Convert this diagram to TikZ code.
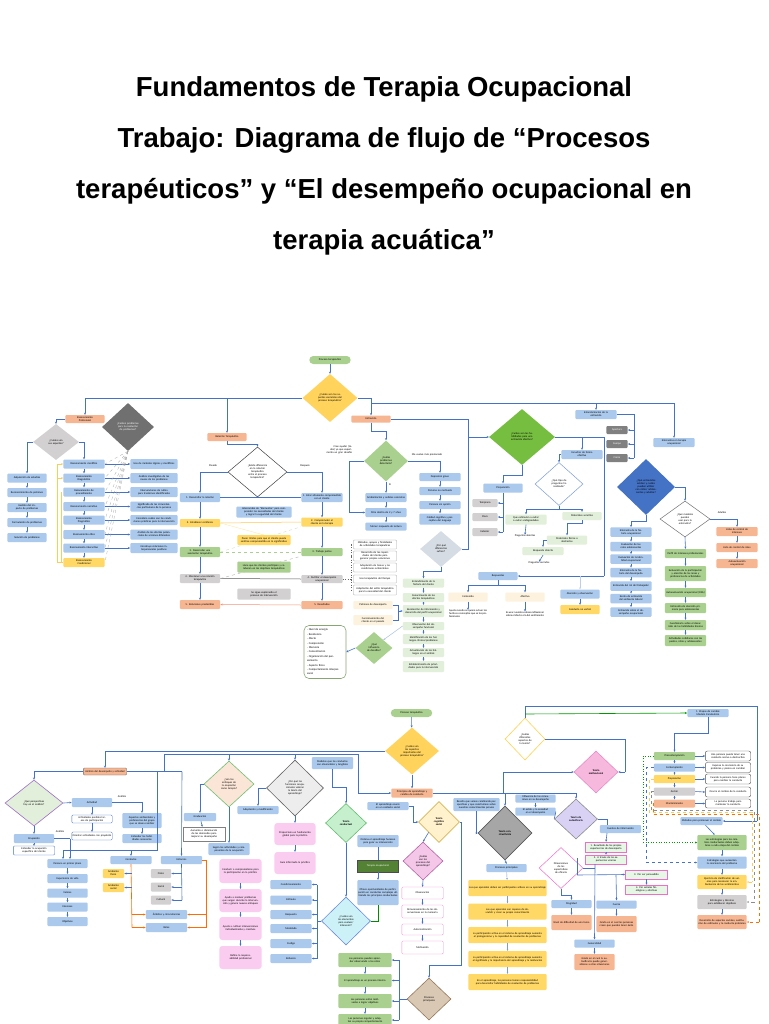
\documentclass[tikz,border=0pt]{standalone}
\usepackage{fontspec}
\setmainfont{Liberation Sans}
\newfontfamily\dg{Carlito}
\usetikzlibrary{shapes.geometric,arrows.meta}
\newcommand\dgf{\dg\fontsize{2.7}{3.05}\selectfont}
\newcommand\ttlf{\bfseries\fontsize{27.5}{30}\selectfont}
\definecolor{cB}{RGB}{170,201,236}
\definecolor{cO}{RGB}{246,182,146}
\definecolor{cY}{RGB}{255,216,102}
\definecolor{cG}{RGB}{169,208,142}
\definecolor{cGr}{RGB}{210,208,208}
\definecolor{cLG}{RGB}{226,239,218}
\definecolor{cCr}{RGB}{253,242,222}
\definecolor{cLn}{RGB}{68,114,196}
\definecolor{cDG}{RGB}{112,112,112}
\definecolor{cPk}{RGB}{250,205,240}
\definecolor{cYd}{RGB}{255,211,92}
\tikzset{
  bx/.style={rectangle, rounded corners=1pt, inner sep=0.7pt, align=center, font=\dgf},
  tw/.style={text width=#1pt},
  mh/.style={minimum height=#1pt},
  bB/.style={bx, fill=cB},
  bO/.style={bx, fill=cO},
  bY/.style={bx, fill=cY},
  bG/.style={bx, fill=cG},
  bGr/.style={bx, fill=cGr},
  bLG/.style={bx, fill=cLG},
  bCr/.style={bx, fill=cCr},
  bPk/.style={bx, fill=cPk, rounded corners=3pt},
  bWb/.style={bx, fill=white, draw=cLn, line width=0.4pt},
  dm/.style={diamond, inner sep=0pt, align=center, font=\dgf},
  ln/.style={draw=cLn, line width=0.6pt},
  ar/.style={ln, -{Stealth[length=2.2pt,width=2pt]}},
  lbl/.style={font=\dgf, inner sep=0pt, align=center},
  fan/.style={draw=black!35, dashed, line width=0.3pt},
  yl/.style={draw=cY!85!orange, line width=0.7pt},
}
\begin{document}
\begin{tikzpicture}[x=1pt,y=-1pt]
\useasboundingbox (0,0) rectangle (768,1024);
\fill[white] (0,0) rectangle (768,1024);
% ---------- title ----------
\node[anchor=base, font=\ttlf, inner sep=0] at (384,97) {Fundamentos de Terapia Ocupacional};
\node[anchor=base, font=\ttlf, inner sep=0] at (384,148) {Trabajo: Diagrama de flujo de “Procesos};
\node[anchor=base, font=\ttlf, inner sep=0] at (384,199) {terapéuticos” y “El desempeño ocupacional en};
\node[anchor=base, font=\ttlf, inner sep=0] at (384,249) {terapia acuática”};

% ================= DIAGRAM 1 =================
\node[bG, rounded corners=4pt, tw=40, mh=8] (p1) at (330,360) {Proceso terapéutico};
\node[dm, fill=cYd, minimum width=55pt, minimum height=48pt, text width=25pt] (d1) at (330,398) {¿Cuáles son los aspectos esenciales del proceso terapéutico?};
\node[bO, tw=38, mh=8] (rp) at (85,419) {Razonamiento\\Profesional};
\node[dm, fill=cDG, text=white, minimum width=52pt, minimum height=48pt, text width=22pt] (dg) at (128,427) {¿Existen problemas para la resolución de problemas?};
\node[dm, fill=cGr, minimum width=46pt, minimum height=36pt, text width=16pt] (lg) at (56,442) {¿Cuáles son sus aspectos?};
\foreach \nm/\y/\tx in {a1/478/{Adquisición de estudios}, a2/492.5/{Reconocimiento de patrones}, a3/507.5/{Gestión del impacto de problemas}, a4/522.5/{Formulación de problemas}, a5/537.5/{Solución de problemas}}
  \node[bB, tw=38, mh=9] (\nm) at (27,\y) {\tx};
\foreach \nm/\y/\tx in {m1/464/{Razonamiento científico}, m2/478/{Razonamiento\\Diagnóstico}, m3/492/{Razonamiento de\\procedimiento}, m4/506.5/{Razonamiento narrativo}, m5/520/{Razonamiento\\Pragmático}, m6/534.5/{Razonamiento ético}, m7/548/{Razonamiento interactivo}}
  \node[bB, tw=40, mh=9] (\nm) at (84,\y) {\tx};
\node[bY, tw=40, mh=9] (m8) at (84,562.5) {Razonamiento\\Condicional};
\foreach \nm/\y/\tx in {r1/464/{Uso de métodos lógicos y científicos}, r2/478/{Análisis investigativo de las causas de los problemas}, r3/492/{Intervenciones de rutina para trastornos identificados}, r4/506.5/{Significado de las circunstancias particulares de la persona}, r5/520/{Considera cuáles son las condiciones prácticas para la intervención}, r6/534.5/{Análisis de los efectos potenciales de acciones diferentes}, r7/548/{Construye relaciones interpersonales positivas}}
  \node[bB, tw=46, mh=10] (\nm) at (154,\y) {\tx};
\draw[ar] (p1) -- (d1);
\draw[ar] (d1.west) -| (rp.north);
\draw[ar] (rp.west) -| (lg.north);
\draw[ar] (lg.west) -| (a1.north);
\draw[ar] (lg.east) -| (m1.north);
\foreach \p/\q in {a1/a2,a2/a3,a3/a4,a4/a5,m1/m2,m2/m3,m3/m4,m4/m5,m5/m6,m6/m7,m7/m8} \draw[ar] (\p) -- (\q);
\foreach \i in {1,...,7} \draw[ar] (m\i.east) -- (r\i.west);
\foreach \i in {1,...,8} \draw[fan] (dg.south) -- (m\i.east);
\draw[yl] (m8.west) -- (57,562.5) -- (57,464);
\draw[yl,-{Stealth[length=2pt,width=1.8pt]}] (57,464) -- (m1.west);
\draw[yl,-{Stealth[length=2pt,width=1.8pt]}] (57,478) -- (m2.west);
\draw[yl] (61,492) -- (61,562.5);

% Relacion terapeutica
\node[bO, tw=38, mh=8] (rt) at (227,437) {Relación Terapéutica};
\node[dm, fill=white, draw=black!75, line width=0.5pt, minimum width=59pt, minimum height=50pt, text width=22pt] (d2) at (257.5,472) {¿Existe diferencia en la relación terapéutica entre el proceso terapéutico?};
\node[lbl] at (213,466) {Pasado};
\node[lbl] at (305,466) {Después};
\node[bB, tw=39, mh=9] (L1) at (200,497.5) {1. Desarrollar la relación};
\node[bY, tw=39, mh=8] (L2) at (200,523) {2. Establecer confianza};
\node[bG, tw=39, mh=10] (L3) at (200,552) {3. Desarrollar una\\asociación terapéutica};
\node[bGr, tw=39, mh=9] (L4) at (200,578.5) {4. Mantener una relación\\terapéutica};
\node[bO, tw=39, mh=9] (L5) at (200,604.5) {5. Relaciones predecibles};
\node[bB, tw=40, mh=9] (R1) at (322,497.5) {1. Estar altamente comprometido\\con el cliente};
\node[bY, tw=40, mh=9] (R2) at (322,522) {2. Comprometer al\\cliente en la terapia};
\node[bG, tw=40, mh=8] (R3) at (322,552) {3. Trabajo juntos};
\node[bGr, tw=40, mh=8] (R4) at (322,579) {4. Facilitar el desempeño\\ocupacional};
\node[bO, tw=40, mh=8] (R5) at (322,605) {5. Resultados};
\draw[ar] (227,398) -- (rt.north);
\draw[ar] (rt.south) -- (227,444) -| (d2.north);
\draw[ar] (d2.west) -| (L1.north);
\draw[ar] (d2.east) -| (R1.north);
\foreach \p/\q in {L1/L2,L2/L3,L3/L4,L4/L5,R1/R2,R2/R3,R3/R4,R4/R5} \draw[ar] (\p) -- (\q);
\draw[ln] (L1.east) -- (R1.west);
\draw[draw=cY!80!orange, line width=0.5pt] (L2.east) -- (R2.west);
\draw[draw=cY!60, line width=0.4pt] (L2.east) -- (264,535);
\draw[draw=cG, line width=0.4pt, dashed] (L3.east) -- (R3.west);
\draw[draw=cG!60, line width=0.4pt, dashed] (L3.east) -- (R2.south west);
\draw[draw=black!65, line width=0.5pt] (L4.east) -- (R4.west);
\draw[draw=black!30, line width=0.4pt, dashed] (L4.east) -- (R3.south west);
\draw[draw=cO!80!red, line width=0.5pt, -{Stealth[length=2.2pt,width=2pt]}] (R5.west) -- (L5.east);
\node[bB, tw=54, mh=11] (N1) at (264,512) {Intercambio de “Elementos” para comprender las necesidades del cliente y lograr la seguridad del cliente};
\node[bY, tw=52, mh=10] (N2) at (264,540) {Poner límites para que el cliente pueda sentirse comprometido en lo significativo};
\node[bG, tw=52, mh=11] (N3) at (264,567) {Hace que los clientes participen y colaboren en los objetivos terapéuticos};
\node[bGr, tw=52, mh=11] (N4) at (264,594) {Se sigue explorando el proceso de intervención};
\foreach \nm/\y/\h/\tx in {F1/544.5/9/{Métodos, apoyos y finalidades de actividades terapéuticas}, F2/556/10/{Desarrollo de las capacidades del cliente para generar propias soluciones}, F3/567.5/9/{Adaptación de tareas y las condiciones ambientales}, F4/579/8/{Uso terapéutico del tiempo}, F5/590/10/{Adaptación del estilo terapéutico para la necesidad del cliente}}
  \node[bx, fill=white, draw=black!35, line width=0.3pt, tw=42, mh=\h] (\nm) at (375,\y) {\tx};
\draw[dotted, draw=black!60, line width=0.5pt] (R4.east) -- (351,579) (351,544.5) -- (351,590);
\foreach \i in {1,...,5} \draw[dotted, draw=black!60, line width=0.5pt] (351,0 |- F\i.west) -- (F\i.west);

% Entrevista branch
\node[bO, tw=38, mh=7] (E) at (371,419) {Entrevista};
\node[dm, fill=cG, minimum width=44pt, minimum height=41pt, text width=18pt] (dp) at (386,461) {¿Cuáles problemas detectaría?};
\node[lbl, text width=30pt, align=right] at (337,450) {Cree ayudar (todos) ya que experimenta un gran desafío};
\node[lbl, text width=34pt] at (427,455) {Me vuelve más presionado};
\node[lbl] at (390,485) {Sí};
\node[bB, tw=40, mh=9] (AM) at (386,497.5) {Ambientación y señales concretas};
\node[bB, tw=40, mh=9] (MI) at (386,512.5) {Mira dentro de 2 y 7 años};
\node[bB, tw=40, mh=8] (ME) at (386,526.5) {Menor respuesta de lectura};
\node[bB, tw=40, mh=8] (DG1) at (440,477) {Depresión grave};
\node[bB, tw=40, mh=8] (DG2) at (440,491) {Persona no motivada};
\node[bB, tw=40, mh=8] (DG3) at (440,505) {Persona sin opción};
\node[bB, tw=40, mh=11] (DG4) at (440,519) {Calidad cognitiva y perceptiva del lenguaje};
\node[dm, fill={rgb,255:red,214;green,220;blue,228}, minimum width=42pt, minimum height=36pt, text width=16pt] (pq) at (441,549) {¿Por qué diferencias sufren?};
\foreach \nm/\y/\h/\tx in {GL1/583/9/{Entendimiento de la historia del cliente}, GL2/597.5/9/{Conocimiento de los efectos terapéuticos}, GL3/611/12/{Recolección de información y desarrollo del perfil ocupacional}, GL4/626/8/{Observación del desempeño funcional}, GL5/639/10/{Identificación de los hallazgos clínicos/problemas}, GL6/652.5/9/{Actualización de los hallazgos en el análisis}, GL7/666.5/11/{Establecimiento de prioridades para la intervención}}
  \node[bLG, tw=40, mh=\h] (\nm) at (423.5,\y) {\tx};
\node[bCr, tw=38, mh=8] (PD) at (373,605) {Patrones de desempeño};
\node[bCr, tw=38, mh=10] (FC) at (373,620) {Funcionamiento del cliente en el pasado};
\node[dm, fill=cG, minimum width=37pt, minimum height=32pt, text width=14pt] (qi) at (374,648) {¿Qué influencia de desafíos?};
\node[bx, fill=white, draw=cG!80!black, line width=0.6pt, rounded corners=5pt, minimum width=42pt, minimum height=53pt, align=left, text width=36pt, font=\dg\fontsize{2.8}{4.4}\selectfont] (bl) at (325,652) {- Nivel de energía\\- Resistencia\\- Afecto\\- Comprensión\\- Memoria\\- Concentración\\- Organización del pensamiento\\- Aspecto físico\\- Comportamiento interpersonal};
\draw[ar] (d1.east) -- (371,398) -- (E.north);
\draw[ln] (371,403) -- (674,403);
\draw[ln] (E.east) -- (468,419) -- (468,549) -- (pq.east);
\draw[ar] (E.south) -- (371,431) -| (dp.north);
\draw[ln] (dp.west) -- (349,461) -- (349,512.5);
\draw[ar] (349,512.5) -- (MI.west);
\draw[ar] (dp.south) -- (AM.north);
\draw[ar] (AM) -- (MI);
\draw[ar] (MI) -- (ME);
\draw[ar] (dp.east) -| (DG1.north);
\foreach \p/\q in {DG1/DG2,DG2/DG3,DG3/DG4,GL1/GL2,GL2/GL3,GL3/GL4,GL4/GL5,GL5/GL6,GL6/GL7} \draw[ar] (\p) -- (\q);
\draw[ar] (pq.south) -- ++(0,4) -| (GL1.north);
\draw[ln] (PD.east) -- (398,605) -- (398,620) -- (FC.east);
\draw[ar] (398,611) -- (GL3.west);
\draw[draw=cLn!45, line width=0.5pt, -{Stealth[length=2pt,width=1.8pt]}] (GL4.west) -- (qi.north east);
\draw[ar] (qi.west) -- (bl.east);

% Habilidades entrevista
\node[dm, fill={rgb,255:red,118;green,190;blue,64}, minimum width=66pt, minimum height=56pt, text width=28pt] (gd) at (522,437) {¿Cuáles son las habilidades para una entrevista efectiva?};
\node[bB, tw=38, mh=9] (PR) at (503,488) {Preparación};
\node[bGr, tw=24, mh=8] (TE) at (485,503) {Temprano};
\node[bGr, tw=24, mh=8] (CL) at (485,517) {Claro};
\node[bGr, tw=24, mh=8] (EX) at (485,532) {Exterior};
\node[bB, tw=40, mh=9] (ESC) at (582,454.5) {Escuchar de forma\\efectiva};
\node[dm, fill=white, draw=cLn!70, line width=0.5pt, minimum width=48pt, minimum height=43pt, text width=18pt] (qt) at (559,484) {¿Qué tipo de preguntas ha realizado?};
\node[bLG, tw=40, mh=10] (QE) at (526,519.5) {Que estimulan a evitar o evitar ambigüedades};
\node[bLG, tw=38, mh=8] (MS) at (582,516) {Materiales sencillos};
\node[lbl] (PA) at (525,536) {Preguntas abiertas};
\node[bLG, tw=39, mh=9] (MF) at (567,540) {Materiales físicos o\\abstractos};
\node[bLG, tw=40, mh=8] (RA) at (543,551) {Respuesta abierta};
\node[lbl] (PC) at (539,563) {Preguntas cerradas};
\node[bB, tw=38, mh=8] (RS) at (498,576) {Respuestas};
\node[bCr, tw=38, mh=9] (CO) at (468,597) {Contenido};
\node[bCr, tw=38, mh=9] (AF) at (525,597) {Afectivo};
\node[lbl, text width=38pt, align=justify] (COt) at (468,614) {Ayuda cuando se quiere actuar los hechos o conceptos que se los profesionales};
\node[lbl, text width=38pt, align=justify] (AFt) at (525,614) {Es usar cuando se desea reflexionar sobre el afecto o la del sentimiento};
\node[bB, tw=38, mh=9] (AT) at (580,594) {Atención y observación};
\node[bY, tw=38, mh=9] (CN) at (580,609.5) {Conducta no verbal};
\draw[ar] (468,437) -- (gd.west);
\draw[ar] (gd.south) -- (522,475) -| (PR.north);
\draw[ln] (PR.south) -- (503,532);
\foreach \b in {TE,CL,EX} \draw[ar] (503,0 |- \b.east) -- (\b.east);
\draw[ln] (gd.east) -- (604,437) -- (604,576);
\draw[ar] (604,576) -- (RS.east);
\draw[ar] (582,437) -- (ESC.north);
\draw[ar] (ESC.west) -| (qt.north);
\draw[ln] (qt.south) -- (559,509) (526,509) -- (582,509);
\draw[ar] (526,509) -- (QE.north);
\draw[ar] (582,509) -- (MS.north);
\draw[ar] (QE.south) -- (PA.north);
\draw[ar] (MS.south) -- ++(0,3) -| (MF.north);
\draw[ar] (MF.west) -| (RA.north);
\draw[ar] (RA.south) -- (PC.north);
\draw[ln] (RS.south) -- (498,585) (468,585) -- (525,585);
\draw[ar] (468,585) -- (CO.north);
\draw[ar] (525,585) -- (AF.north);
\draw[ar] (CO.south) -- (COt.north);
\draw[ar] (AF.south) -- (AFt.north);
\draw[draw=cLn!35, line width=0.5pt, -{Stealth[length=2pt,width=1.8pt]}] (580,576) -- (AT.north);
\draw[ar] (AT) -- (CN);

% Estandarizacion / entrevistas
\node[bB, tw=40, mh=9] (ES) at (596,414.5) {Estandarización de la\\entrevista};
\node[bx, fill=black!50, text=white, tw=20, mh=8] (AP) at (617,430) {Apertura};
\node[bx, fill=black!50, text=white, tw=20, mh=8] (CU) at (617,444) {Cuerpo};
\node[bx, fill=black!50, text=white, tw=20, mh=8] (CI) at (617,458) {Cierre};
\node[bB, tw=40, mh=9] (EO) at (674,442.5) {Entrevistas en terapia\\ocupacional};
\node[dm, fill=cLn, minimum width=58pt, minimum height=56pt, text width=24pt] (bd) at (646,487) {¿Qué entrevistas existen y cuáles pueden utilizar con niños/ adolescentes y adultos?};
\node[dm, fill=white, draw=black!55, line width=0.5pt, minimum width=50pt, minimum height=36pt, text width=18pt] (wd) at (685,519) {¿Qué modelos pueden usar para la entrevista?};
\node[lbl] at (722,513) {Adultos};
\node[bO, tw=40, mh=9] (OL1) at (737,531.5) {Listas de control de\\intereses};
\node[bO, tw=40, mh=9] (OL2) at (737,547.5) {Lista de control de roles};
\node[bO, tw=40, mh=9] (OL3) at (737,563.5) {Autoevaluación\\ocupacional};
\foreach \nm/\y/\tx in {BL1/532/{Entrevista de la historia ocupacional}, BL2/546.5/{Evaluación de los roles adolescentes}, BL3/559/{Evaluación de la identidad ocupacional}, BL4/572.5/{Entrevista de la historia del desempeño}, BL5/586/{Entrevista del rol del trabajador}, BL6/598.5/{Escala de entrevista del ambiente laboral}, BL7/612/{Entrevista sobre el desempeño ocupacional}}
  \node[bB, tw=40, mh=9.5] (\nm) at (631,\y) {\tx};
\foreach \nm/\y/\h/\tx in {GR1/553.5/9/{Perfil de intereses profesionales}, GR2/573.5/15/{Evaluación de la participación y elección de las áreas y preferencias de actividades}, GR3/592.5/9/{Autoevaluación ocupacional (OSA)}, GR4/608/10/{Entrevista de atención primaria para adolescentes}, GR5/625/10/{Cuestionario sobre el desarrollo de las habilidades básicas}, GR6/640.5/11/{Actividades cotidianas con los padres, niños y adolescentes}}
  \node[bG, tw=40, mh=\h] (\nm) at (685.5,\y) {\tx};
\draw[ar] (596,403) -- (ES.north);
\draw[ar] (674,403) -- (EO.north);
\draw[ln] (ES.east) -- (634,414.5) -- (634,458);
\foreach \b in {AP,CU,CI} \draw[ar] (634,0 |- \b.east) -- (\b.east);
\draw[ar] (bd.east) -| (wd.north);
\draw[ar] (wd.east) -| (OL1.north);
\draw[ar] (OL1) -- (OL2);
\draw[ar] (OL2) -- (OL3);
\draw[ar] (bd.south) -- ++(0,6) -| (BL1.north);
\foreach \p/\q in {BL1/BL2,BL2/BL3,BL3/BL4,BL4/BL5,BL5/BL6,BL6/BL7,GR1/GR2,GR2/GR3,GR3/GR4,GR4/GR5,GR5/GR6} \draw[ar] (\p) -- (\q);
\draw[ar] (wd.south) -- (GR1.north);

% ================= DIAGRAM 2 =================
\node[bG, rounded corners=4pt, tw=40, mh=8] (p2) at (411.5,713) {Proceso terapéutico};
\node[dm, fill=cYd, minimum width=54pt, minimum height=47pt, text width=24pt] (d3) at (412,751) {¿Cuáles son los aspectos importantes del proceso terapéutico?};
\node[bO, tw=40, mh=9] (PA2) at (412,793) {Principios de aprendizaje y\\cambio de conducta};
\node[bO, draw=black!60, line width=0.4pt, tw=42, mh=7] (AN) at (105,771.5) {Análisis del desempeño y actividad};
\node[dm, fill=cLG, draw={rgb,255:red,160;green,110;blue,200}, line width=0.6pt, minimum width=58pt, minimum height=46pt, text width=22pt] (d4) at (34,803) {¿Qué perspectivas hay en el análisis?};
\node[bB, tw=39, mh=9] (AC) at (92,802.5) {Actividad};
\node[lbl] at (122,797) {Análisis};
\node[bB, tw=38, mh=15] (AS) at (142,820.5) {Aspectos ambientales y preferencias del grupo que se desea cambiar};
\node[bB, tw=38, mh=9] (EH) at (142,838.5) {Entender las habilidades necesarias};
\node[bWb, tw=39, mh=8] (AP2) at (92,819) {Actividades posibles tareas de participación};
\node[bWb, tw=39, mh=8] (OA) at (92,836) {Orientar actividades con propósito};
\node[bB, tw=39, mh=9] (OC) at (34,838.5) {Ocupación};
\node[lbl] at (60,832) {Análisis};
\node[bWb, tw=40, mh=9] (EC) at (34,850.5) {Entender la ocupación específica del cliente};
\foreach \nm/\y/\tx in {PE1/863.5/{Persona en primer plano}, PE2/878.5/{Experiencia de vida}, PE3/893/{Valores}, PE4/907/{Intereses}, PE5/921.5/{Objetivos}}
  \node[bB, tw=39, mh=9] (\nm) at (67.5,\y) {\tx};
\node[bB, tw=40, mh=8] (CT) at (131,860) {Contextos};
\node[bB, tw=40, mh=8] (EN) at (181.5,860) {Entornos};
\node[bY, tw=20, mh=9] (AF1) at (113.5,873.5) {Ambiente\\físico};
\node[bY, tw=20, mh=9] (AF2) at (113.5,887.5) {Ambiente\\social};
\node[bGr, tw=19, mh=9] (FI) at (161,873.5) {Físico};
\node[bGr, tw=19, mh=9] (SO) at (161,887) {Social};
\node[bGr, tw=19, mh=9] (CU2) at (161,900) {Cultural};
\node[bB, tw=40, mh=9] (AM2) at (166.5,914.5) {Ámbitos y circunstancias};
\node[bB, tw=40, mh=9] (RO) at (166.5,927.5) {Roles};
\draw[ar] (p2) -- (d3);
\draw[ar] (d3.south) -- (PA2.north);
\draw[ar] (d3.west) -| (AN.north);
\draw[ar] (AN.west) -| (d4.north);
\draw[ar] (d4.east) -- (AC.west);
\draw[ar] (AC.east) -| (AS.north);
\draw[ar] (AS) -- (EH);
\draw[ar] (AC) -- (AP2);
\draw[ar] (AP2) -- (OA);
\draw[ar] (d4.south) -- (OC.north);
\draw[ar] (OC) -- (EC);
\draw[ln] (OC.east) -- (70,838.5);
\draw[ar] (70,838.5) -- (70,859);
\foreach \p/\q in {PE1/PE2,PE2/PE3,PE3/PE4,PE4/PE5} \draw[ar] (\p) -- (\q);
\draw[ln] (AN.east) -- (182,771.5);
\draw[ar] (182,771.5) -- (EN.north);
\draw[ln] (157,771.5) -- (157,850) -- (63,850);
\draw[ar] (63,850) -- (63,859);
\draw[ar] (131,850) -- (CT.north);
\draw[draw=orange!85!red, line width=0.6pt] (CT.south) -- (132,927.5);
\draw[draw=orange!85!red, line width=0.6pt, -{Stealth[length=2.2pt,width=2pt]}] (132,914.5) -- (AM2.west);
\draw[draw=orange!85!red, line width=0.6pt, -{Stealth[length=2.2pt,width=2pt]}] (132,927.5) -- (RO.west);
\draw[ar] (132,873.5) -- (AF1.east);
\draw[ar] (132,887.5) -- (AF2.east);
\draw[ln] (EN.south) -- (182,900);
\foreach \b in {FI,SO,CU2} \draw[ar] (182,0 |- \b.east) -- (\b.east);
\draw[draw=orange!85!red, line width=0.6pt] (EN.east) -- (206,860) -- (206,927.5);
\draw[draw=orange!85!red, line width=0.6pt, -{Stealth[length=2.2pt,width=2pt]}] (206,914.5) -- (AM2.east);
\draw[draw=orange!85!red, line width=0.6pt, -{Stealth[length=2.2pt,width=2pt]}] (206,927.5) -- (RO.east);

% enfoques
\node[dm, fill={rgb,255:red,251;green,229;blue,214}, draw={rgb,255:red,112;green,192;blue,112}, line width=0.6pt, minimum width=50pt, minimum height=46pt, text width=20pt] (d5) at (229,784) {¿Son los enfoques de la ocupación como terapia?};
\node[bB, tw=31, mh=8] (GD) at (200,817) {Graduación};
\node[bx, fill=white, draw=black!50, line width=0.4pt, tw=40, mh=14, rounded corners=0pt] (AU) at (204,834) {Aumento o disminución de las demandas para mejorar su desempeño};
\node[bB, tw=40, mh=12] (SG) at (229,849) {Según las actividades y componentes de la ocupación};
\node[bB, tw=40, mh=8] (AD) at (258,810) {Adaptación y modificación};
\node[bPk, tw=41, mh=24] (PK1) at (240.5,871) {Conducir a comprometerse para la participación en la práctica};
\node[bPk, tw=41, mh=23] (PK2) at (240.5,900.5) {Ayuda a resolver problemas que surgen durante la intervención y genera nuevos enfoques};
\node[bPk, tw=41, mh=23] (PK3) at (240.5,928.5) {Ayuda a cultivar intervenciones individualizadas y creativas};
\node[bPk, tw=41, mh=23] (PK4) at (240.5,957.5) {Define la responsabilidad profesional};
\node[dm, fill=black!7, draw=black!60, line width=0.6pt, minimum width=57pt, minimum height=56pt, text width=22pt] (d6) at (295,788) {¿Por qué las funciones ocupacionales valoran la teoría del aprendizaje?};
\node[bPk, tw=40, mh=22] (PP1) at (295,834) {Proporciona un fundamento global para la práctica};
\node[bPk, tw=40, mh=22] (PP2) at (295,863) {Guía informada la práctica};
\draw[ln] (164,771.5) -- (164,754) -- (358,754) -- (358,793);
\draw[ar] (358,793) -- (PA2.west);
\draw[ar] (229,754) -- (d5.north);
\draw[ar] (295,754) -- (d6.north);
\draw[ar] (d5.west) -| (GD.north);
\draw[ar] (GD) -- (AU);
\draw[ar] (d5.south) -- (SG.north);
\draw[ar] (d6.west) -| (AD.north);
\draw[ar] (PK1) -- (PK2);
\draw[ar] (PK2) -- (PK3);
\draw[ar] (PK3) -- (PK4);
\draw[ar] (d6.south) -- (PP1.north);
\draw[ar] (PP1) -- (PP2);

% conductual
\node[bB, tw=40, mh=12] (MO) at (332.5,763) {Modelos que las conductas son observables y tangibles};
\node[dm, fill={rgb,255:red,198;green,239;blue,206}, draw={rgb,255:red,100;green,190;blue,110}, line width=0.6pt, minimum width=41pt, minimum height=39pt, text width=16pt, font=\dg\bfseries\fontsize{2.7}{3.05}\selectfont] (d7) at (346,823) {Teoría conductual};
\node[bB, tw=40, mh=12] (OR) at (378,841) {Ordena el aprendizaje humano para guiar su intervención};
\node[bx, fill={rgb,255:red,84;green,130;blue,53}, draw=black!70, line width=0.5pt, text=white, tw=40, mh=12, rounded corners=0pt] (TO) at (378,866) {Terapia ocupacional};
\node[bB, tw=40, mh=25] (OF) at (378,892.5) {Ofrece oportunidades de participación en conductas complejas utilizando los principios conductuales};
\node[dm, fill={rgb,255:red,204;green,242;blue,247}, draw={rgb,255:red,110;green,140;blue,220}, line width=0.6pt, minimum width=49pt, minimum height=48pt, text width=18pt] (d8) at (346,921) {¿Cuáles son los elementos para evaluar/ intervenir?};
\foreach \nm/\y/\tx in {K1/884.5/{Condicionamiento}, K2/900/{Estímulo}, K3/914.5/{Respuesta}, K4/928.5/{Modelado}, K5/943.5/{Castigo}, K6/958.5/{Refuerzo}}
  \node[bB, tw=40, mh=9] (\nm) at (291,\y) {\tx};
\draw[ln] (MO.south) -- (332.5,787) -- (346,787);
\draw[ar] (346,787) -- (d7.north);
\draw[draw=cLn, line width=0.4pt] (OR) -- (TO);
\draw[ar] (TO) -- (OF);
\draw[ar] (d7.south) -- (d8.north);
\draw[draw=green!55!black, line width=0.6pt] (OF.south) -- (378,921) -- (d8.east);
\draw[ln] (d8.west) -- (317,921) (317,884.5) -- (317,958.5);
\foreach \i in {1,...,6} \draw[ar] (317,0 |- K\i.east) -- (K\i.east);

% cognitiva social
\node[bB, tw=40, mh=8] (CS) at (388,806) {El aprendizaje ocurre en un contexto social};
\node[dm, fill={rgb,255:red,255;green,242;blue,204}, draw={rgb,255:red,214;green,182;blue,86}, line width=0.6pt, minimum width=41pt, minimum height=41pt, text width=16pt, font=\dg\bfseries\fontsize{2.7}{3.05}\selectfont] (d9) at (439,822) {Teoría cognitiva social};
\node[dm, fill={rgb,255:red,244;green,199;blue,232}, draw={rgb,255:red,181;green,101;blue,167}, line width=0.6pt, minimum width=40pt, minimum height=38pt, text width=15pt] (d10) at (423,861) {¿Cuáles son los procesos del aprendizaje?};
\foreach \nm/\y/\h/\tx in {OB/893/12/{Observación}, ALm/911.5/13/{Almacenamiento de las observaciones en la memoria}, ARz/929.5/11/{Autorrealización}, MTv/947.5/13/{Motivación}}
  \node[bx, fill=white, draw={rgb,255:red,240;green,150;blue,210}, line width=0.4pt, tw=40, mh=\h] (\nm) at (422.5,\y) {\tx};
\node[dm, fill={rgb,255:red,217;green,200;blue,180}, draw={rgb,255:red,150;green,120;blue,90}, line width=0.6pt, minimum width=44pt, minimum height=42pt, text width=18pt] (d11) at (429,999) {Procesos principales};
\foreach \nm/\y/\h/\tx in {GB1/960/14/{Las personas pueden aprender observando a los otros}, GB2/980.5/13/{El aprendizaje es un proceso interno}, GB3/1001/14/{Las personas están motivadas a lograr objetivos}, GB4/1020/12/{Las personas regulan y adaptan su propio comportamiento}}
  \node[bG, tw=52, mh=\h] (\nm) at (365,\y) {\tx};
\draw[ln] (CS.east) -- (413,806);
\draw[ar] (413,806) |- (d9.west);
\draw[ar] (d9.south west) -- (d10.north);
\draw[ar] (d10.south) -- (OB.north);
\foreach \p/\q in {OB/ALm,ALm/ARz,ARz/MTv,GB1/GB2,GB2/GB3,GB3/GB4} \draw[ar] (\p) -- (\q);
\draw[ln] (d9.east) -- (461,822) -- (461,965) -- (429,965);
\draw[ar] (429,965) -- (d11.north);
\draw[ln] (d11.west) -- (399,999) (399,960) -- (399,1020);
\foreach \i in {1,...,4} \draw[ar] (399,0 |- GB\i.east) -- (GB\i.east);

% constructivista
\node[bB, tw=45, mh=13] (RT) at (476.5,804.5) {Resalta que vamos cambiando perspectivas y que construimos sobre nuestros conocimientos previos};
\node[dm, fill=black!35, draw=black!65, line width=0.6pt, minimum width=54pt, minimum height=54pt, text width=20pt, font=\dg\bfseries\fontsize{2.7}{3.05}\selectfont] (d12) at (505,833) {Teoría constructivista};
\node[bB, tw=39, mh=8] (PP3) at (506.5,868) {Procesos principales};
\foreach \nm/\y/\tx in {YL1/888/{Los que aprenden deben ser participantes activos en su aprendizaje}, YL2/911.5/{Los que aprenden son capaces de descubrir y crear su propio conocimiento}, YL3/935/{La participación activa en el sistema de aprendizaje aumenta el protagonismo y la capacidad de resolución de problemas}, YL4/959/{La participación activa en el sistema de aprendizaje aumenta el significado y la importancia del aprendizaje y la motivación}, YL5/982/{En el aprendizaje, las personas toman responsabilidad para desarrollar habilidades de resolución de problemas}}
  \node[bY, tw=77, mh=16] (\nm) at (507.5,\y) {\tx};
\draw[ar] (RT.south) |- (d12.west);
\draw[ar] (d12.south) -- (PP3.north);
\foreach \p/\q in {PP3/YL1,YL1/YL2,YL2/YL3,YL3/YL4,YL4/YL5} \draw[draw=cLn!70, line width=0.4pt, -{Stealth[length=1.8pt,width=1.6pt]}] (\p) -- (\q);

% motivacional / autoeficacia
\node[dm, fill={rgb,255:red,247;green,184;blue,221}, draw={rgb,255:red,230;green,140;blue,200}, line width=0.6pt, minimum width=44pt, minimum height=42pt, text width=16pt, font=\dg\bfseries\fontsize{2.7}{3.05}\selectfont] (d13) at (596,772) {Teoría motivacional};
\node[dm, fill=white, draw={rgb,255:red,255;green,210;blue,80}, line width=0.6pt, minimum width=40pt, minimum height=42pt, text width=15pt] (d14) at (525,739) {¿Cuáles diferentes aspectos de la teoría?};
\node[dm, fill={rgb,255:red,217;green,210;blue,245}, draw=black!45, line width=0.6pt, minimum width=43pt, minimum height=40pt, text width=16pt, font=\dg\bfseries\fontsize{2.7}{3.05}\selectfont] (d15) at (576,819) {Teoría de autoeficacia};
\node[bB, tw=39, mh=8] (IC) at (535.5,798.5) {Influencia de las conexiones en su desempeño};
\node[bB, tw=39, mh=8] (EA) at (535.5,811.5) {El estrés y la ansiedad en el desempeño};
\node[bB, tw=40, mh=8] (FU) at (620.5,829) {Fuentes de información};
\tikzset{sp/.style={bx, fill={rgb,255:red,230;green,247;blue,230}, draw={rgb,255:red,240;green,110;blue,200}, line width=0.5pt, rounded corners=0pt}}
\node[sp, tw=40, mh=10] (S1) at (606,847) {1. Resultado de las propias experiencias de desempeño};
\node[sp, tw=40, mh=9] (S2) at (606,859.5) {2. A través de las experiencias vicarias};
\node[sp, tw=41, mh=9] (S3) at (646.5,874.5) {3. Por ser persuadido};
\node[sp, tw=41, mh=9] (S4) at (646.5,889.5) {4. Por señales fisiológicas y afectivas};
\node[dm, fill=white, draw={rgb,255:red,240;green,110;blue,200}, line width=0.5pt, minimum width=44pt, minimum height=41pt, text width=16pt] (d16) at (561,868) {Dimensiones de las expectativas de eficacia};
\node[bB, tw=39, mh=8] (MG) at (571.5,904) {Magnitud};
\node[bB, tw=39, mh=8] (FZ) at (616.5,904.5) {Fuerza};
\node[bB, tw=39, mh=8] (GE) at (594.5,943.5) {Generalidad};
\node[bO, tw=39, mh=15] (NM) at (571.5,922.5) {Nivel de dificultad de una tarea};
\node[bO, tw=39, mh=16] (GR7) at (616.5,924) {Grado en el cual las personas creen que pueden tener éxito};
\node[bO, tw=39, mh=16] (GG) at (594.5,962) {Grado en el cual la autoeficacia puede generalizarse a otras situaciones};
\draw[ln] (PA2.east) -- (576,793);
\draw[ar] (576,793) -- (d15.north);
\draw[ln] (503,793) -- (503,772);
\draw[ar] (503,772) -- (d13.west);
\draw[ar] (505,793) -- (d12.north);
\draw[ln] (d14.east) -- (625,739) -- (625,772);
\draw[ar] (625,772) -- (d13.east);
\draw[ar] (IC) -- (EA);
\draw[ln] (d15.west) -- (EA.east);
\draw[ln] (d15.east) -- (607,819) -- (607,825);
\draw[ar] (607,833) -- (S1.north);
\draw[ar] (S1) -- (S2);
\draw[ar] (S3) -- (S4);
\draw[ln] (577,858) -- (577,875);
\draw[ar] (577,875) -- (S3.west);
\draw[ln] (d16.east) -- (595,868);
\draw[ar] (595,864) -- (GE.north);
\draw[ar] (616,875) -- (FZ.north);
\draw[ar] (d16.south) -- (561,895) -| (MG.north);
\draw[ar] (MG) -- (NM);
\draw[ar] (FZ) -- (GR7);
\draw[ar] (GE) -- (GG);

% transteorico
\node[bB, tw=40, mh=8] (TT) at (708,713) {1. Etapas de cambio: Modelo transteórico};
\node[bG, tw=40, mh=8] (ST1) at (674.5,756) {Precontemplación};
\node[bB, tw=40, mh=8] (ST2) at (674.5,767.5) {Contemplación};
\node[bY, tw=40, mh=8] (ST3) at (674.5,779) {Preparación};
\node[bGr, tw=40, mh=8] (ST4) at (674.5,791.5) {Acción};
\node[bO, tw=40, mh=8] (ST5) at (674.5,803.5) {Mantenimiento};
\tikzset{dsc/.style={bx, fill=white, draw=black!70, line width=0.4pt, rounded corners=2pt, tw=44}}
\node[dsc, mh=10] (D1) at (728,756) {Una persona puede tener una conducta nociva o destructiva};
\node[dsc, mh=10] (D2) at (728,767.5) {Expresa la conciencia de su problema y piensa en cambiar};
\node[dsc, mh=10] (D3) at (728,779) {Cuando la persona hace planes para cambiar la conducta};
\node[dsc, mh=10] (D4) at (728,792) {Ocurre el cambio de la conducta};
\node[dsc, mh=9] (D5) at (728,803.5) {La persona trabaja para mantener la conducta};
\node[bB, tw=41, mh=8] (MT2) at (701.5,821) {Métodos para promover el cambio};
\node[bG, tw=48, mh=15] (EC2) at (722,842.5) {Las estrategias para los cambios conductuales deben adaptarse a cada etapa del cambio};
\node[bB, tw=48, mh=12] (EP) at (722,862.5) {Estrategias que aumenten la conciencia del problema};
\node[bY, tw=48, mh=14] (EJ) at (722,882) {Ejercicio de clarificación de valores para reconocer la ambivalencia de los sentimientos};
\node[bGr, tw=48, mh=14] (ESt) at (722,902) {Estrategias y técnicas para establecer objetivos};
\node[bO, tw=48, mh=14] (DS) at (722,922) {Desarrollo de aspectos sociales, sustitución de estímulos y la conducta problema};
\draw[ln] (d14.north) -- (525,706) -- (757,706) -- (757,821);
\draw[ar] (757,821) -- (MT2.east);
\draw[draw=green!60!black, line width=0.6pt, -{Stealth[length=2.2pt,width=2pt]}] (525,714) -- (TT.west);
\draw[ar] (TT.south) -- (708,733) -| (ST1.north);
\foreach \p/\q in {ST1/ST2,ST2/ST3,ST3/ST4,ST4/ST5,MT2/EC2,EC2/EP,EP/EJ,EJ/ESt,ESt/DS} \draw[ar] (\p) -- (\q);
\foreach \i in {1,...,5} \draw[ar] (ST\i.east) -- (D\i.west);
\draw[draw=green!60!black, line width=0.6pt, dotted] (ST1.west) -- (643,756) -- (643,842.5);
\draw[draw=green!60!black, line width=0.6pt, dotted, -{Stealth[length=2pt,width=1.8pt]}] (643,842.5) -- (EC2.west);
\draw[draw=cLn, line width=0.6pt, dashed] (ST2.west) -- (646,767.5) -- (646,862.5);
\draw[draw=cLn, line width=0.6pt, dashed, -{Stealth[length=2pt,width=1.8pt]}] (646,862.5) -- (EP.west);
\draw[draw=cY!85!orange, line width=0.7pt, dashed] (ST3.west) -- (649,779) -- (649,812) -- (752,812) -- (752,882);
\draw[draw=cY!85!orange, line width=0.7pt, dashed, -{Stealth[length=2pt,width=1.8pt]}] (752,882) -- (EJ.east);
\draw[draw=black!45, line width=0.6pt, dashed] (ST4.west) -- (651,791.5) -- (651,810) -- (754,810) -- (754,902);
\draw[draw=black!45, line width=0.6pt, dashed, -{Stealth[length=2pt,width=1.8pt]}] (754,902) -- (ESt.east);
\draw[draw=orange!85!red, line width=0.7pt, dashed] (ST5.west) -- (653,803.5) -- (653,814) -- (759,814) -- (759,922);
\draw[draw=orange!85!red, line width=0.7pt, dashed, -{Stealth[length=2pt,width=1.8pt]}] (759,922) -- (DS.east);
\end{tikzpicture}
\end{document}
